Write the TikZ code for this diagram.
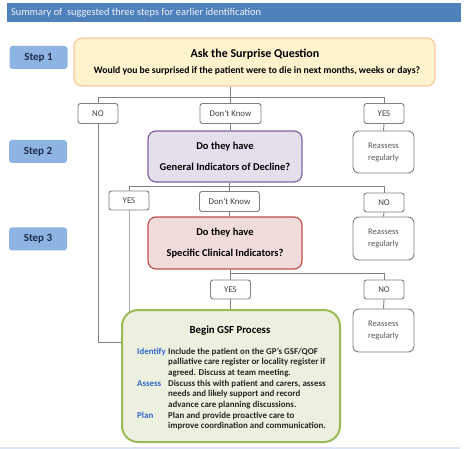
\documentclass[tikz,border=0pt]{standalone}
\usepackage{fontspec}
\setmainfont{Carlito}
\usetikzlibrary{calc}
\pgfdeclarelayer{background}
\pgfsetlayers{background,main}
\definecolor{hdrblue}{HTML}{4F81BD}
\definecolor{stepblue}{HTML}{8EB4E3}
\definecolor{stepnavy}{HTML}{1F2D4D}
\definecolor{yelfill}{HTML}{FFF3CE}
\definecolor{yelline}{HTML}{F6C9A0}
\definecolor{purfill}{HTML}{E5DFEC}
\definecolor{purline}{HTML}{8064A2}
\definecolor{redfill}{HTML}{F2DCDB}
\definecolor{redline}{HTML}{C0504D}
\definecolor{grnfill}{HTML}{EBF1DE}
\definecolor{grnline}{HTML}{9BBB59}
\definecolor{conngray}{HTML}{7F7F7F}
\definecolor{lblblue}{HTML}{3366CC}
\definecolor{bandblue}{HTML}{DBE5F1}
\tikzset{
  stepbox/.style={fill=stepblue, rounded corners=3pt, minimum width=58pt, minimum height=23pt,
    inner sep=0pt, font=\fontsize{11}{13}\selectfont\bfseries, text=stepnavy},
  smallbox/.style={draw=conngray, fill=white, line width=0.9pt, rounded corners=2.5pt,
    minimum width=40pt, minimum height=20pt, inner sep=0pt, font=\fontsize{8.8}{10}\selectfont, text=black!75},
  reassbox/.style={draw=conngray, fill=white, line width=0.9pt, rounded corners=6pt,
    minimum width=61pt, minimum height=42pt, inner sep=0pt, align=center,
    font=\fontsize{8.6}{12}\selectfont, text=black!65},
  qbox/.style={line width=1.2pt, rounded corners=8pt, inner sep=0pt, align=center,
    font=\fontsize{10.5}{20.5}\selectfont\bfseries},
  conn/.style={draw=conngray, line width=0.9pt}
}
\begin{document}
\begin{tikzpicture}[x=1pt,y=-1pt]
\useasboundingbox (0,0) rectangle (474,449);
% header and bottom band
\fill[hdrblue] (7,3) rectangle (461,22);
\node[anchor=west, inner sep=0pt, text=white!90!hdrblue, font=\fontsize{10.4}{12}\selectfont] (hdr) at (11,12.5)
  {Summary of\ \ suggested three steps for earlier identification};
\fill[bandblue] (0,446.5) rectangle (460,449);
% step labels
\node[stepbox] (s1) at (38.5,57.5) {Step 1};
\node[stepbox] (s2) at (38,151.5) {Step 2};
\node[stepbox] (s3) at (38,239) {Step 3};
% step 1
\node[qbox, draw=yelline, fill=yelfill, minimum width=361pt, minimum height=48pt] (q1) at (254.5,62) {};
\node[inner sep=0pt, font=\fontsize{12}{14}\selectfont\bfseries] (q1t) at (255,54) {Ask the Surprise Question};
\node[inner sep=0pt, font=\fontsize{9.7}{11}\selectfont\bfseries] (q1s) at (257,71) {Would you be surprised if the patient were to die in next months, weeks or days?};
\node[smallbox] (no1) at (98,113.5) {NO};
\node[smallbox, minimum width=61pt] (dk1) at (230.5,113.5) {Don’t Know};
\node[smallbox] (yes1) at (384,113.5) {YES};
% step 2
\node[qbox, draw=purline, fill=purfill, minimum width=154pt, minimum height=51pt] (q2) at (225,156.5)
  {Do they have\\General Indicators of Decline?};
\node[reassbox] (r1) at (383.5,152) {Reassess\\regularly};
\node[smallbox, minimum height=19pt] (yes2) at (129,200.5) {YES};
\node[smallbox, minimum width=60pt] (dk2) at (229.5,201.5) {Don’t Know};
\node[smallbox, minimum height=19pt] (no2) at (384,202.5) {NO};
% step 3
\node[qbox, draw=redline, fill=redfill, minimum width=154pt, minimum height=52pt] (q3) at (225,243)
  {Do they have\\Specific Clinical Indicators?};
\node[reassbox, minimum height=43pt] (r2) at (383.5,238.5) {Reassess\\regularly};
\node[smallbox, minimum height=19pt] (yes3) at (230.5,289.5) {YES};
\node[smallbox, minimum height=19pt] (no3) at (384,289.5) {NO};
\node[reassbox, minimum height=43pt] (r3) at (383.5,330.5) {Reassess\\regularly};
% GSF box
\node[draw=grnline, fill=grnfill, line width=2pt, rounded corners=16pt, minimum width=218pt,
  minimum height=132pt, inner sep=0pt] (gsf) at (231,376) {};
\node[inner sep=0pt, font=\fontsize{10.8}{12}\selectfont\bfseries] (gsft) at (230,330.5) {Begin GSF Process};
\node[inner sep=0pt, anchor=north west, font=\fontsize{8.9}{10.3}\selectfont\bfseries, text=black!85] (gsfbody) at (137,347)
  {\begin{tabular}{@{}p{31pt}@{}l@{}}
   \textcolor{lblblue}{Identify} & Include the patient on the GP’s GSF/QOF\\
   & palliative care register or locality register if\\
   & agreed. Discuss at team meeting.\\[1.2pt]
   \textcolor{lblblue}{Assess} & Discuss this with patient and carers, assess\\
   & needs and likely support and record\\
   & advance care planning discussions.\\[1.2pt]
   \textcolor{lblblue}{Plan} & Plan and provide proactive care to\\
   & improve coordination and communication.
   \end{tabular}};
% connectors
\begin{pgfonlayer}{background}
\draw[conn] (dk1 |- q1.south) -- (dk1.north);
\draw[conn] (no1.north) -- (no1.north |- 0,97) -- (yes1.north |- 0,97) -- (yes1.north);
\draw[conn] (dk1.south) -- (dk1 |- q2.north);
\draw[conn] (yes1.south) -- (r1.north);
\draw[conn] (no1.south) -- (no1.south |- 0,342) -- (gsf.west |- 0,342);
\draw[conn] (dk2 |- q2.south) -- (dk2.north);
\draw[conn] (yes2.north) -- (yes2.north |- 0,186.5) -- (no2.north |- 0,186.5) -- (no2.north);
\draw[conn] (dk2.south) -- (dk2 |- q3.north);
\draw[conn] (no2.south) -- (r2.north);
\draw[conn] (yes2.south) -- (yes2.south |- gsf.north) -- ++(0,6);
\draw[conn] (yes3 |- q3.south) -- (yes3.north);
\draw[conn] (yes3.north |- 0,273) -- (no3.north |- 0,273) -- (no3.north);
\draw[conn] (yes3.south) -- (yes3 |- gsf.north);
\draw[conn] (no3.south) -- (r3.north);
\end{pgfonlayer}
\end{tikzpicture}
\end{document}
